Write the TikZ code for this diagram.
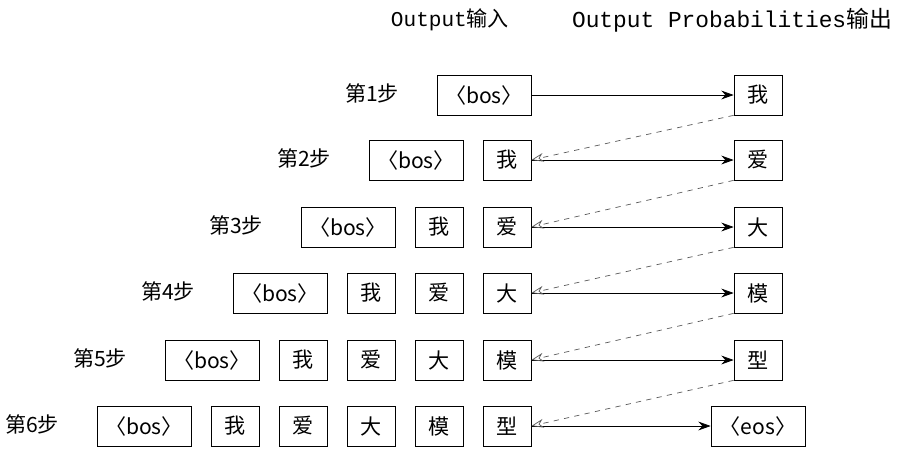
\documentclass[tikz,border=0pt]{standalone}
\usepackage{fontspec}
\setmainfont{Noto Sans CJK SC}
\newfontfamily\monof{Liberation Mono}
\usetikzlibrary{arrows.meta}
\begin{document}
\begin{tikzpicture}[x=0.02cm,y=-0.02cm,
  bx/.style={draw,minimum width=0.96cm,minimum height=0.8cm,inner sep=0pt,font=\large},
  wb/.style={bx,minimum width=1.88cm},
  lab/.style={font=\large},
  sol/.style={-{Stealth[length=7pt,width=5pt]}},
  das/.style={dashed,-{Stealth[length=7pt,width=5pt,open]},gray!70!black}]
\useasboundingbox (0,0) rectangle (900,451);
\node[font=\large] (h1) at (450,20) {{\monof Output}输入};
\node[font=\fontsize{13}{15}\selectfont,anchor=east,inner sep=1pt] (h2) at (894,20) {{\monof Output Probabilities}输出};
\def\ys{{95,160,227,293,360,426}}
\foreach \r in {1,...,6}{
  \pgfmathsetmacro{\y}{\ys[\r-1]}
  \pgfmathsetmacro{\bx}{484-68*(\r-1)}
  \node[wb] (b\r) at (\bx,\y) {〈bos〉};
  \node[lab] (l\r) at (\bx-112,\y-2) {第\r 步};
}
% words
\foreach \r/\list in {2/{我},3/{我,爱},4/{我,爱,大},5/{我,爱,大,模},6/{我,爱,大,模,型}}{
  \pgfmathsetmacro{\y}{\ys[\r-1]}
  \foreach \w [count=\i] in \list {
    \pgfmathsetmacro{\xx}{507-68*(\r-1)+68*\i}
    \node[bx] (w\r-\i) at (\xx,\y) {\w};
  }
}
\node[bx] (o1) at (758,95) {我};
\node[bx] (o2) at (758,160) {爱};
\node[bx] (o3) at (758,227) {大};
\node[bx] (o4) at (758,293) {模};
\node[bx] (o5) at (758,360) {型};
\node[wb] (o6) at (758,426) {〈eos〉};
\draw[sol] (b1.east) -- (o1.west);
\draw[sol] (w2-1.east) -- (o2.west);
\draw[sol] (w3-2.east) -- (o3.west);
\draw[sol] (w4-3.east) -- (o4.west);
\draw[sol] (w5-4.east) -- (o5.west);
\draw[sol] (w6-5.east) -- (o6.west);
\draw[das] (o1.south west) -- (w2-1.east);
\draw[das] (o2.south west) -- (w3-2.east);
\draw[das] (o3.south west) -- (w4-3.east);
\draw[das] (o4.south west) -- (w5-4.east);
\draw[das] (o5.south west) -- (w6-5.east);
\end{tikzpicture}
\end{document}
